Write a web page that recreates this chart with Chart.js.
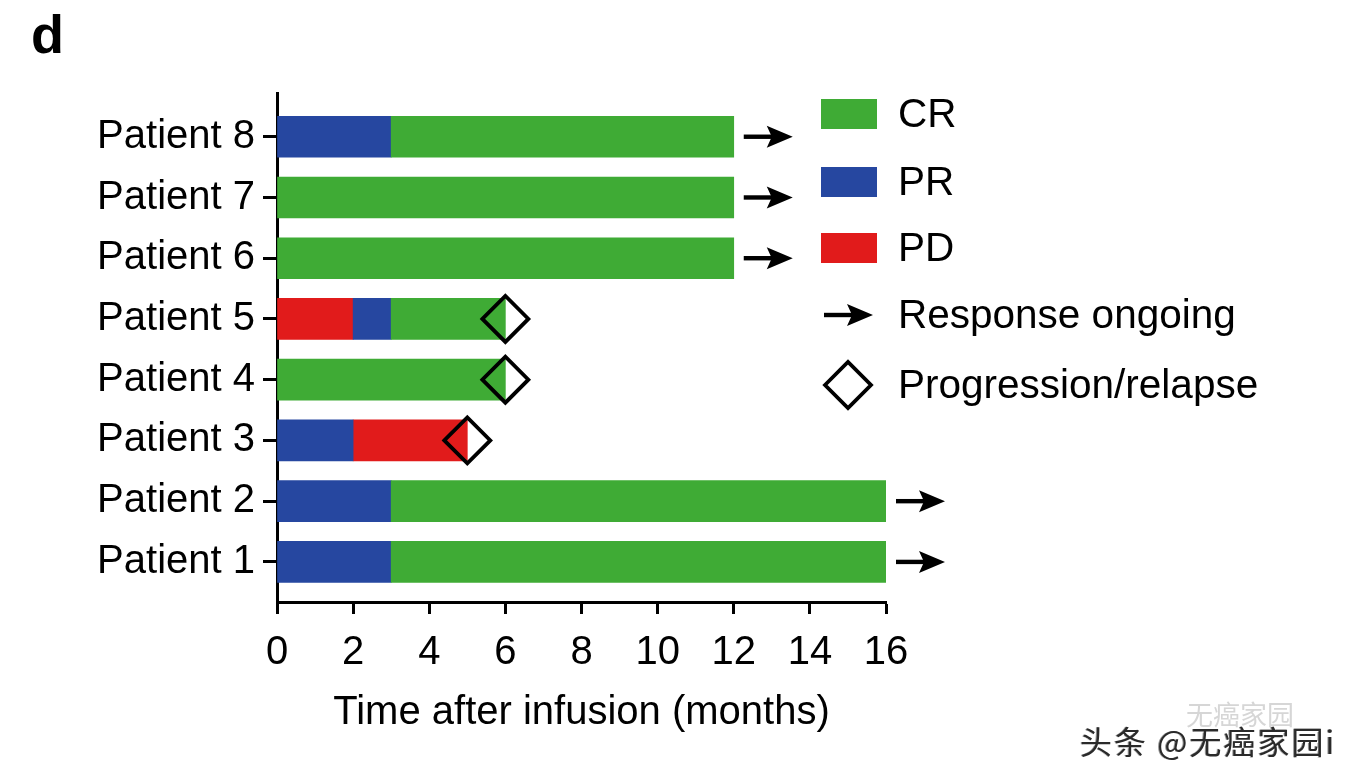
<!DOCTYPE html>
<html>
<head>
<meta charset="utf-8">
<title>Swimmer plot</title>
<script src="https://cdn.jsdelivr.net/npm/chart.js@4.4.1/dist/chart.umd.min.js"></script>
<style>
  body { margin: 0; background: #fff; }
  #wrap { position: relative; width: 1360px; height: 780px; overflow: hidden; }
  #panel { position: absolute; left: 31px; top: 3px; font: bold 54px "Liberation Sans", Arial, sans-serif; color: #000; }
  #mark-faint { position: absolute; left: 1186px; top: 694px; font: 27px "Noto Sans CJK SC", sans-serif; color: #d6d6d6; }
  #mark { position: absolute; left: 1080px; top: 717px; font: 32px "Noto Sans CJK SC", sans-serif; color: #2a2a2a;
          letter-spacing: 2px; text-shadow: 1px 1px 0 #fff, -1px 0 0 #999; }
</style>
</head>
<body>
<div id="wrap">
  <canvas id="swimmer" width="1360" height="780"></canvas>
  <div id="panel">d</div>
  <div id="mark-faint">无癌家园</div>
  <div id="mark">头条 @无癌家园i</div>
</div>
<script>
"use strict";

// patients, bottom to top
const patients = [1, 2, 3, 4, 5, 6, 7, 8];

// response segments per patient [start, end] in months (null = none)
const crRanges = [[3, 16], [3, 16], null, [0, 6], [3, 6], [0, 12], [0, 12], [3, 12]];
const prRanges = [[0, 3], [0, 3], [0, 2], null, [2, 3], null, null, [0, 3]];
const pdRanges = [null, null, [2, 5], null, [0, 2], null, null, null];

// response still ongoing at last follow-up
const ongoing = [true, true, false, false, false, true, true, true];
// month of progression / relapse
const relapseAt = [null, null, 5, 6, 6, null, null, null];

const xTicks = [0, 2, 4, 6, 8, 10, 12, 14, 16];

const GREEN = '#3fab35';
const BLUE = '#2647a0';
const RED = '#e11b1b';

Chart.defaults.font.family = '"Liberation Sans", Arial, sans-serif';
Chart.defaults.color = '#000';

function segments(ranges) {
    return patients
        .map((p, i) => ranges[i] ? { y: p, x: ranges[i] } : null)
        .filter(Boolean);
}

function barEnd(i) {
    return Math.max(...[crRanges[i], prRanges[i], pdRanges[i]].filter(Boolean).map(r => r[1]));
}

function drawArrow(ctx, x0, yc) {
    ctx.fillRect(x0, yc - 2.2, 33, 4.4);
    ctx.beginPath();
    ctx.moveTo(x0 + 49, yc);
    ctx.lineTo(x0 + 23, yc - 11);
    ctx.lineTo(x0 + 28, yc);
    ctx.lineTo(x0 + 23, yc + 11);
    ctx.closePath();
    ctx.fill();
}

function drawDiamond(ctx, xc, yc, r) {
    ctx.beginPath();
    ctx.moveTo(xc - r, yc);
    ctx.lineTo(xc, yc - r);
    ctx.lineTo(xc + r, yc);
    ctx.lineTo(xc, yc + r);
    ctx.closePath();
    ctx.stroke();
}

// arrows after ongoing bars + the legend on the right
const swimmerExtras = {
    id: 'swimmerExtras',
    afterDatasetsDraw(chart) {
        const { ctx, scales: { x, y } } = chart;
        ctx.save();
        ctx.fillStyle = '#000';
        ctx.strokeStyle = '#000';

        patients.forEach((p, i) => {
            if (!ongoing[i]) return;
            drawArrow(ctx, x.getPixelForValue(barEnd(i)) + 10, y.getPixelForValue(p));
        });

        // legend
        const lx = 821;
        const tx = 898;
        ctx.font = '40.5px "Liberation Sans", Arial, sans-serif';
        ctx.textBaseline = 'middle';
        ctx.textAlign = 'left';
        const boxes = [['CR', GREEN, 114], ['PR', BLUE, 182], ['PD', RED, 248]];
        boxes.forEach(([label, color, cy]) => {
            ctx.fillStyle = color;
            ctx.fillRect(lx, cy - 15, 56, 30);
            ctx.fillStyle = '#000';
            ctx.fillText(label, tx, cy + 2);
        });
        drawArrow(ctx, 824, 315);
        ctx.fillText('Response ongoing', tx, 317);
        ctx.lineWidth = 3.8;
        drawDiamond(ctx, 848, 385, 23);
        ctx.fillText('Progression/relapse', tx, 387);

        ctx.restore();
    }
};

const ctx = document.getElementById('swimmer').getContext('2d');
new Chart(ctx, {
    type: 'bar',
    data: {
        datasets: [
            {
                type: 'scatter',
                label: 'Progression/relapse',
                data: patients.map((p, i) => relapseAt[i] !== null ? { x: relapseAt[i], y: p } : null).filter(Boolean),
                pointStyle: 'rectRot',
                pointRadius: 23,
                pointHoverRadius: 23,
                borderWidth: 3.8,
                borderColor: '#000',
                backgroundColor: 'rgba(0,0,0,0)',
                order: -1,
                clip: false
            },
            { label: 'CR', data: segments(crRanges), backgroundColor: GREEN },
            { label: 'PR', data: segments(prRanges), backgroundColor: BLUE },
            { label: 'PD', data: segments(pdRanges), backgroundColor: RED }
        ]
    },
    options: {
        indexAxis: 'y',
        responsive: false,
        animation: false,
        events: [],
        layout: { padding: { top: 93, right: 474, bottom: 43, left: 0 } },
        datasets: {
            bar: { barThickness: 41, grouped: false, borderWidth: 0, borderSkipped: false }
        },
        plugins: {
            legend: { display: false },
            tooltip: { enabled: false }
        },
        scales: {
            x: {
                type: 'linear',
                min: 0,
                max: 16,
                afterFit: (scale) => { scale.height = 135; },
                afterBuildTicks: (scale) => { scale.ticks = xTicks.map(v => ({ value: v })); },
                ticks: { font: { size: 40 }, color: '#000', padding: 15 },
                grid: { drawOnChartArea: false, tickLength: 12, tickWidth: 3, tickColor: '#000' },
                border: { display: true, color: '#000', width: 3 },
                title: {
                    display: true,
                    text: 'Time after infusion (months)',
                    font: { size: 40 },
                    color: '#000',
                    padding: { top: 0, bottom: 0 }
                }
            },
            y: {
                type: 'linear',
                min: 0.34,
                max: 8.72,
                offset: false,
                afterFit: (scale) => { scale.width = 277; },
                afterBuildTicks: (scale) => { scale.ticks = patients.map(v => ({ value: v })); },
                ticks: { font: { size: 40 }, color: '#000', padding: 8, callback: (v) => 'Patient ' + v },
                grid: { offset: false, drawOnChartArea: false, tickLength: 14, tickWidth: 3, tickColor: '#000' },
                border: { display: true, color: '#000', width: 3 }
            }
        }
    },
    plugins: [swimmerExtras]
});
</script>
</body>
</html>
